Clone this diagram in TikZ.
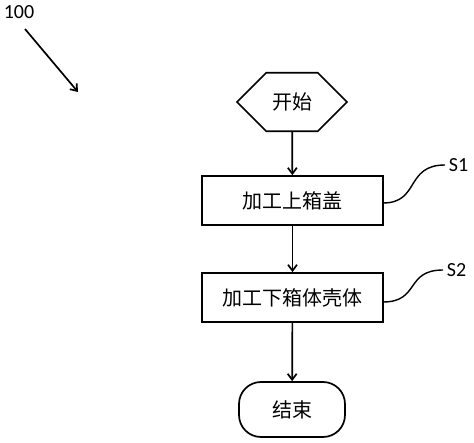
\documentclass[tikz,border=0pt]{standalone}
\usepackage{fontspec}
\setmainfont{Carlito}
\newfontfamily\cjk{Noto Sans CJK SC}
\usetikzlibrary{arrows.meta,shapes.misc,shapes.geometric}
\begin{document}
\begin{tikzpicture}[x=1pt,y=-1pt,
  line width=1.7pt,
  arr/.style={-{Straight Barb[length=6pt,width=9pt,line width=1.7pt]}},
  cjkfont/.style={font=\cjk\fontsize{20}{24}\selectfont},
  procbox/.style={draw,cjkfont,minimum width=181pt,minimum height=49pt,inner sep=0pt},
  hexnode/.style={draw,cjkfont,chamfered rectangle,chamfered rectangle xsep=18pt,chamfered rectangle ysep=22pt,minimum width=110pt,minimum height=44pt,inner sep=0pt},
  termnode/.style={draw,cjkfont,rounded corners=22pt,minimum width=106pt,minimum height=55pt,inner sep=0pt},
  lbl/.style={font=\fontsize{20}{24}\selectfont,inner sep=0pt}]
\useasboundingbox (0,0) rectangle (474,443);
\node[hexnode] (start) at (292,102) {开始};
\node[procbox] (s1) at (292.5,200.5) {加工上箱盖};
\node[procbox] (s2) at (292.5,297.5) {加工下箱体壳体};
\node[termnode] (end) at (292,409.5) {结束};
\draw[arr] (start) -- (s1);
\draw[arr] (s1) -- (s2);
\draw[arr] (s2) -- (end);
\node[lbl,anchor=west] (l1) at (448,165) {S1};
\node[lbl,anchor=west] (l2) at (446,270) {S2};
\coordinate (c1a) at (383,203);
\coordinate (c2a) at (383,302);
\draw[line width=1.4pt] (c1a) .. controls (420,203) and (405,165) .. ([xshift=-3pt]l1.west);
\draw[line width=1.4pt] (c2a) .. controls (420,302) and (405,270) .. ([xshift=-3pt]l2.west);
\node[lbl] (n100) at (19,12) {100};
\coordinate (p100a) at (25,29);
\coordinate (p100b) at (78,92);
\draw[arr] (p100a) -- (p100b);
\end{tikzpicture}
\end{document}
